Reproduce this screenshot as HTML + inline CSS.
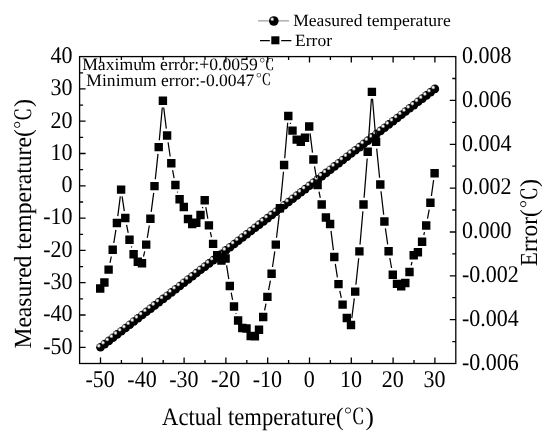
<!DOCTYPE html><html><head><meta charset="utf-8"><style>
html,body{margin:0;padding:0;background:#fff;}
svg{display:block;}
text{font-family:"Liberation Serif", "Noto Serif CJK SC", serif;fill:#000;text-rendering:geometricPrecision;}
</style></head><body>
<svg width="550" height="442" viewBox="0 0 550 442">
<defs><radialGradient id="hl" cx="0.5" cy="0.5" r="0.5"><stop offset="0" stop-color="#fff"/><stop offset="0.3" stop-color="#eee"/><stop offset="1" stop-color="#ddd" stop-opacity="0"/></radialGradient></defs>
<rect width="550" height="442" fill="#fff"/>
<circle cx="100.5" cy="347.3" r="4.3"/>
<circle cx="98.8" cy="345.8" r="2.4" fill="url(#hl)"/>
<circle cx="104.7" cy="344.1" r="4.3"/>
<circle cx="103.0" cy="342.6" r="2.4" fill="url(#hl)"/>
<circle cx="108.9" cy="340.9" r="4.3"/>
<circle cx="107.2" cy="339.4" r="2.4" fill="url(#hl)"/>
<circle cx="113.0" cy="337.7" r="4.3"/>
<circle cx="111.3" cy="336.2" r="2.4" fill="url(#hl)"/>
<circle cx="117.2" cy="334.4" r="4.3"/>
<circle cx="115.5" cy="332.9" r="2.4" fill="url(#hl)"/>
<circle cx="121.4" cy="331.2" r="4.3"/>
<circle cx="119.7" cy="329.7" r="2.4" fill="url(#hl)"/>
<circle cx="125.6" cy="328.0" r="4.3"/>
<circle cx="123.9" cy="326.5" r="2.4" fill="url(#hl)"/>
<circle cx="129.8" cy="324.7" r="4.3"/>
<circle cx="128.1" cy="323.2" r="2.4" fill="url(#hl)"/>
<circle cx="133.9" cy="321.5" r="4.3"/>
<circle cx="132.2" cy="320.0" r="2.4" fill="url(#hl)"/>
<circle cx="138.1" cy="318.3" r="4.3"/>
<circle cx="136.4" cy="316.8" r="2.4" fill="url(#hl)"/>
<circle cx="142.3" cy="315.0" r="4.3"/>
<circle cx="140.6" cy="313.5" r="2.4" fill="url(#hl)"/>
<circle cx="146.5" cy="311.8" r="4.3"/>
<circle cx="144.8" cy="310.3" r="2.4" fill="url(#hl)"/>
<circle cx="150.7" cy="308.6" r="4.3"/>
<circle cx="149.0" cy="307.1" r="2.4" fill="url(#hl)"/>
<circle cx="154.8" cy="305.4" r="4.3"/>
<circle cx="153.1" cy="303.9" r="2.4" fill="url(#hl)"/>
<circle cx="159.0" cy="302.1" r="4.3"/>
<circle cx="157.3" cy="300.6" r="2.4" fill="url(#hl)"/>
<circle cx="163.2" cy="298.9" r="4.3"/>
<circle cx="161.5" cy="297.4" r="2.4" fill="url(#hl)"/>
<circle cx="167.4" cy="295.7" r="4.3"/>
<circle cx="165.7" cy="294.2" r="2.4" fill="url(#hl)"/>
<circle cx="171.6" cy="292.4" r="4.3"/>
<circle cx="169.9" cy="290.9" r="2.4" fill="url(#hl)"/>
<circle cx="175.7" cy="289.2" r="4.3"/>
<circle cx="174.0" cy="287.7" r="2.4" fill="url(#hl)"/>
<circle cx="179.9" cy="286.0" r="4.3"/>
<circle cx="178.2" cy="284.5" r="2.4" fill="url(#hl)"/>
<circle cx="184.1" cy="282.7" r="4.3"/>
<circle cx="182.4" cy="281.2" r="2.4" fill="url(#hl)"/>
<circle cx="188.3" cy="279.5" r="4.3"/>
<circle cx="186.6" cy="278.0" r="2.4" fill="url(#hl)"/>
<circle cx="192.5" cy="276.3" r="4.3"/>
<circle cx="190.8" cy="274.8" r="2.4" fill="url(#hl)"/>
<circle cx="196.6" cy="273.0" r="4.3"/>
<circle cx="194.9" cy="271.5" r="2.4" fill="url(#hl)"/>
<circle cx="200.8" cy="269.8" r="4.3"/>
<circle cx="199.1" cy="268.3" r="2.4" fill="url(#hl)"/>
<circle cx="205.0" cy="266.6" r="4.3"/>
<circle cx="203.3" cy="265.1" r="2.4" fill="url(#hl)"/>
<circle cx="209.2" cy="263.4" r="4.3"/>
<circle cx="207.5" cy="261.9" r="2.4" fill="url(#hl)"/>
<circle cx="213.4" cy="260.1" r="4.3"/>
<circle cx="211.7" cy="258.6" r="2.4" fill="url(#hl)"/>
<circle cx="217.5" cy="256.9" r="4.3"/>
<circle cx="215.8" cy="255.4" r="2.4" fill="url(#hl)"/>
<circle cx="221.7" cy="253.7" r="4.3"/>
<circle cx="220.0" cy="252.2" r="2.4" fill="url(#hl)"/>
<circle cx="225.9" cy="250.4" r="4.3"/>
<circle cx="224.2" cy="248.9" r="2.4" fill="url(#hl)"/>
<circle cx="230.1" cy="247.2" r="4.3"/>
<circle cx="228.4" cy="245.7" r="2.4" fill="url(#hl)"/>
<circle cx="234.3" cy="244.0" r="4.3"/>
<circle cx="232.6" cy="242.5" r="2.4" fill="url(#hl)"/>
<circle cx="238.4" cy="240.7" r="4.3"/>
<circle cx="236.7" cy="239.2" r="2.4" fill="url(#hl)"/>
<circle cx="242.6" cy="237.5" r="4.3"/>
<circle cx="240.9" cy="236.0" r="2.4" fill="url(#hl)"/>
<circle cx="246.8" cy="234.3" r="4.3"/>
<circle cx="245.1" cy="232.8" r="2.4" fill="url(#hl)"/>
<circle cx="251.0" cy="231.0" r="4.3"/>
<circle cx="249.3" cy="229.5" r="2.4" fill="url(#hl)"/>
<circle cx="255.2" cy="227.8" r="4.3"/>
<circle cx="253.5" cy="226.3" r="2.4" fill="url(#hl)"/>
<circle cx="259.3" cy="224.6" r="4.3"/>
<circle cx="257.6" cy="223.1" r="2.4" fill="url(#hl)"/>
<circle cx="263.5" cy="221.4" r="4.3"/>
<circle cx="261.8" cy="219.9" r="2.4" fill="url(#hl)"/>
<circle cx="267.7" cy="218.1" r="4.3"/>
<circle cx="266.0" cy="216.6" r="2.4" fill="url(#hl)"/>
<circle cx="271.9" cy="214.9" r="4.3"/>
<circle cx="270.2" cy="213.4" r="2.4" fill="url(#hl)"/>
<circle cx="276.1" cy="211.7" r="4.3"/>
<circle cx="274.4" cy="210.2" r="2.4" fill="url(#hl)"/>
<circle cx="280.2" cy="208.4" r="4.3"/>
<circle cx="278.5" cy="206.9" r="2.4" fill="url(#hl)"/>
<circle cx="284.4" cy="205.2" r="4.3"/>
<circle cx="282.7" cy="203.7" r="2.4" fill="url(#hl)"/>
<circle cx="288.6" cy="202.0" r="4.3"/>
<circle cx="286.9" cy="200.5" r="2.4" fill="url(#hl)"/>
<circle cx="292.8" cy="198.7" r="4.3"/>
<circle cx="291.1" cy="197.2" r="2.4" fill="url(#hl)"/>
<circle cx="297.0" cy="195.5" r="4.3"/>
<circle cx="295.3" cy="194.0" r="2.4" fill="url(#hl)"/>
<circle cx="301.1" cy="192.3" r="4.3"/>
<circle cx="299.4" cy="190.8" r="2.4" fill="url(#hl)"/>
<circle cx="305.3" cy="189.1" r="4.3"/>
<circle cx="303.6" cy="187.6" r="2.4" fill="url(#hl)"/>
<circle cx="309.5" cy="185.8" r="4.3"/>
<circle cx="307.8" cy="184.3" r="2.4" fill="url(#hl)"/>
<circle cx="313.7" cy="182.6" r="4.3"/>
<circle cx="312.0" cy="181.1" r="2.4" fill="url(#hl)"/>
<circle cx="317.9" cy="179.4" r="4.3"/>
<circle cx="316.2" cy="177.9" r="2.4" fill="url(#hl)"/>
<circle cx="322.0" cy="176.1" r="4.3"/>
<circle cx="320.3" cy="174.6" r="2.4" fill="url(#hl)"/>
<circle cx="326.2" cy="172.9" r="4.3"/>
<circle cx="324.5" cy="171.4" r="2.4" fill="url(#hl)"/>
<circle cx="330.4" cy="169.7" r="4.3"/>
<circle cx="328.7" cy="168.2" r="2.4" fill="url(#hl)"/>
<circle cx="334.6" cy="166.4" r="4.3"/>
<circle cx="332.9" cy="164.9" r="2.4" fill="url(#hl)"/>
<circle cx="338.8" cy="163.2" r="4.3"/>
<circle cx="337.1" cy="161.7" r="2.4" fill="url(#hl)"/>
<circle cx="342.9" cy="160.0" r="4.3"/>
<circle cx="341.2" cy="158.5" r="2.4" fill="url(#hl)"/>
<circle cx="347.1" cy="156.7" r="4.3"/>
<circle cx="345.4" cy="155.2" r="2.4" fill="url(#hl)"/>
<circle cx="351.3" cy="153.5" r="4.3"/>
<circle cx="349.6" cy="152.0" r="2.4" fill="url(#hl)"/>
<circle cx="355.5" cy="150.3" r="4.3"/>
<circle cx="353.8" cy="148.8" r="2.4" fill="url(#hl)"/>
<circle cx="359.7" cy="147.1" r="4.3"/>
<circle cx="358.0" cy="145.6" r="2.4" fill="url(#hl)"/>
<circle cx="363.8" cy="143.8" r="4.3"/>
<circle cx="362.1" cy="142.3" r="2.4" fill="url(#hl)"/>
<circle cx="368.0" cy="140.6" r="4.3"/>
<circle cx="366.3" cy="139.1" r="2.4" fill="url(#hl)"/>
<circle cx="372.2" cy="137.4" r="4.3"/>
<circle cx="370.5" cy="135.9" r="2.4" fill="url(#hl)"/>
<circle cx="376.4" cy="134.1" r="4.3"/>
<circle cx="374.7" cy="132.6" r="2.4" fill="url(#hl)"/>
<circle cx="380.6" cy="130.9" r="4.3"/>
<circle cx="378.9" cy="129.4" r="2.4" fill="url(#hl)"/>
<circle cx="384.7" cy="127.7" r="4.3"/>
<circle cx="383.0" cy="126.2" r="2.4" fill="url(#hl)"/>
<circle cx="388.9" cy="124.4" r="4.3"/>
<circle cx="387.2" cy="122.9" r="2.4" fill="url(#hl)"/>
<circle cx="393.1" cy="121.2" r="4.3"/>
<circle cx="391.4" cy="119.7" r="2.4" fill="url(#hl)"/>
<circle cx="397.3" cy="118.0" r="4.3"/>
<circle cx="395.6" cy="116.5" r="2.4" fill="url(#hl)"/>
<circle cx="401.5" cy="114.7" r="4.3"/>
<circle cx="399.8" cy="113.2" r="2.4" fill="url(#hl)"/>
<circle cx="405.6" cy="111.5" r="4.3"/>
<circle cx="403.9" cy="110.0" r="2.4" fill="url(#hl)"/>
<circle cx="409.8" cy="108.3" r="4.3"/>
<circle cx="408.1" cy="106.8" r="2.4" fill="url(#hl)"/>
<circle cx="414.0" cy="105.1" r="4.3"/>
<circle cx="412.3" cy="103.6" r="2.4" fill="url(#hl)"/>
<circle cx="418.2" cy="101.8" r="4.3"/>
<circle cx="416.5" cy="100.3" r="2.4" fill="url(#hl)"/>
<circle cx="422.4" cy="98.6" r="4.3"/>
<circle cx="420.7" cy="97.1" r="2.4" fill="url(#hl)"/>
<circle cx="426.5" cy="95.4" r="4.3"/>
<circle cx="424.8" cy="93.9" r="2.4" fill="url(#hl)"/>
<circle cx="430.7" cy="92.1" r="4.3"/>
<circle cx="429.0" cy="90.6" r="2.4" fill="url(#hl)"/>
<circle cx="434.9" cy="88.9" r="4.3"/>
<circle cx="433.2" cy="87.4" r="2.4" fill="url(#hl)"/>
<path d="M110.0 262.9L111.3 256.5M113.8 243.0L115.9 229.8M117.8 216.2L120.3 196.4M122.1 196.4L124.3 211.2M126.6 224.8L128.2 232.9M131.4 246.4L131.7 247.5M143.5 256.6L144.7 251.3M147.3 237.8L149.3 225.5M151.2 211.9L153.7 192.9M155.3 179.3L158.0 153.9M159.3 140.3L162.3 107.5M163.7 107.5L166.3 128.7M168.1 142.3L170.2 156.5M172.6 170.1L174.1 178.2M177.4 191.7L177.6 192.5M202.4 208.3L202.8 207.0M205.8 207.1L207.8 218.6M210.4 232.1L211.5 237.2M226.6 265.3L228.8 279.2M231.2 292.7L232.6 299.8M236.0 313.2L236.1 313.8M264.6 310.3L266.0 303.6M268.6 290.1L270.4 280.6M272.5 267.0L274.8 251.4M276.5 237.8L279.2 215.1M280.6 201.5L283.5 171.8M284.7 158.2L287.7 122.8M290.2 122.7L290.6 123.9M310.1 133.3L312.5 152.7M314.5 166.3L316.5 178.2M319.0 191.7L320.3 197.8M331.0 230.8L333.4 250.2M335.3 263.8L337.4 277.3M339.8 290.8L341.3 297.9M351.8 318.2L354.3 298.4M355.9 284.8L358.7 258.2M360.0 244.6L362.9 211.3M364.1 197.7L367.2 158.5M368.2 144.9L371.4 98.7M372.5 98.7L375.5 135.0M376.7 148.6L379.6 177.7M381.0 191.3L383.7 214.7M385.4 228.3L387.7 244.4M389.8 258.0L391.6 268.0M411.2 265.3L412.0 262.0M423.8 235.0L424.5 232.2M427.5 218.7L429.2 209.6M431.4 196.0L433.6 180.1" stroke="#000" stroke-width="1.25" fill="none"/>
<path d="M96.0 284.3h8.4v8.4h-8.4zM100.2 278.3h8.4v8.4h-8.4zM104.4 265.4h8.4v8.4h-8.4zM108.5 245.6h8.4v8.4h-8.4zM112.7 218.8h8.4v8.4h-8.4zM116.9 185.4h8.4v8.4h-8.4zM121.1 213.8h8.4v8.4h-8.4zM125.3 235.5h8.4v8.4h-8.4zM129.4 250.0h8.4v8.4h-8.4zM133.6 257.6h8.4v8.4h-8.4zM137.8 259.1h8.4v8.4h-8.4zM142.0 240.4h8.4v8.4h-8.4zM146.2 214.5h8.4v8.4h-8.4zM150.3 181.9h8.4v8.4h-8.4zM154.5 142.9h8.4v8.4h-8.4zM158.7 96.5h8.4v8.4h-8.4zM162.9 131.3h8.4v8.4h-8.4zM167.1 159.1h8.4v8.4h-8.4zM171.2 180.8h8.4v8.4h-8.4zM175.4 195.0h8.4v8.4h-8.4zM179.6 202.8h8.4v8.4h-8.4zM183.8 214.8h8.4v8.4h-8.4zM188.0 219.8h8.4v8.4h-8.4zM192.1 218.6h8.4v8.4h-8.4zM196.3 210.8h8.4v8.4h-8.4zM200.5 196.1h8.4v8.4h-8.4zM204.7 221.2h8.4v8.4h-8.4zM208.9 239.7h8.4v8.4h-8.4zM213.0 251.0h8.4v8.4h-8.4zM217.2 256.3h8.4v8.4h-8.4zM221.4 254.3h8.4v8.4h-8.4zM225.6 281.8h8.4v8.4h-8.4zM229.8 302.3h8.4v8.4h-8.4zM233.9 316.3h8.4v8.4h-8.4zM238.1 323.8h8.4v8.4h-8.4zM242.3 324.3h8.4v8.4h-8.4zM246.5 331.8h8.4v8.4h-8.4zM250.7 332.0h8.4v8.4h-8.4zM254.8 325.6h8.4v8.4h-8.4zM259.0 312.8h8.4v8.4h-8.4zM263.2 292.7h8.4v8.4h-8.4zM267.4 269.6h8.4v8.4h-8.4zM271.6 240.4h8.4v8.4h-8.4zM275.7 204.1h8.4v8.4h-8.4zM279.9 160.8h8.4v8.4h-8.4zM284.1 111.8h8.4v8.4h-8.4zM288.3 126.4h8.4v8.4h-8.4zM292.5 135.4h8.4v8.4h-8.4zM296.6 137.7h8.4v8.4h-8.4zM300.8 133.5h8.4v8.4h-8.4zM305.0 122.3h8.4v8.4h-8.4zM309.2 155.3h8.4v8.4h-8.4zM313.4 180.8h8.4v8.4h-8.4zM317.5 200.3h8.4v8.4h-8.4zM321.7 213.3h8.4v8.4h-8.4zM325.9 219.8h8.4v8.4h-8.4zM330.1 252.8h8.4v8.4h-8.4zM334.3 279.9h8.4v8.4h-8.4zM338.4 300.4h8.4v8.4h-8.4zM342.6 313.8h8.4v8.4h-8.4zM346.8 320.8h8.4v8.4h-8.4zM351.0 287.4h8.4v8.4h-8.4zM355.2 247.2h8.4v8.4h-8.4zM359.3 200.3h8.4v8.4h-8.4zM363.5 147.5h8.4v8.4h-8.4zM367.7 87.7h8.4v8.4h-8.4zM371.9 137.6h8.4v8.4h-8.4zM376.1 180.3h8.4v8.4h-8.4zM380.2 217.3h8.4v8.4h-8.4zM384.4 247.0h8.4v8.4h-8.4zM388.6 270.6h8.4v8.4h-8.4zM392.8 279.7h8.4v8.4h-8.4zM397.0 282.2h8.4v8.4h-8.4zM401.1 278.8h8.4v8.4h-8.4zM405.3 267.8h8.4v8.4h-8.4zM409.5 251.1h8.4v8.4h-8.4zM413.7 248.0h8.4v8.4h-8.4zM417.9 237.5h8.4v8.4h-8.4zM422.0 221.3h8.4v8.4h-8.4zM426.2 198.6h8.4v8.4h-8.4zM430.4 169.1h8.4v8.4h-8.4z" fill="#000"/>
<rect x="79.6" y="56.6" width="376.2" height="306.9" fill="none" stroke="#000" stroke-width="1.3"/>
<path d="M100.5 363.5v-6.0M100.5 56.6v6.0M121.4 363.5v-3.5M121.4 56.6v3.5M142.3 363.5v-6.0M142.3 56.6v6.0M163.2 363.5v-3.5M163.2 56.6v3.5M184.1 363.5v-6.0M184.1 56.6v6.0M205.0 363.5v-3.5M205.0 56.6v3.5M225.9 363.5v-6.0M225.9 56.6v6.0M246.8 363.5v-3.5M246.8 56.6v3.5M267.7 363.5v-6.0M267.7 56.6v6.0M288.6 363.5v-3.5M288.6 56.6v3.5M309.5 363.5v-6.0M309.5 56.6v6.0M330.4 363.5v-3.5M330.4 56.6v3.5M351.3 363.5v-6.0M351.3 56.6v6.0M372.2 363.5v-3.5M372.2 56.6v3.5M393.1 363.5v-6.0M393.1 56.6v6.0M414.0 363.5v-3.5M414.0 56.6v3.5M434.9 363.5v-6.0M434.9 56.6v6.0M79.6 347.3h6.0M79.6 331.2h3.5M79.6 315.0h6.0M79.6 298.9h3.5M79.6 282.7h6.0M79.6 266.6h3.5M79.6 250.4h6.0M79.6 234.3h3.5M79.6 218.1h6.0M79.6 202.0h3.5M79.6 185.8h6.0M79.6 169.7h3.5M79.6 153.5h6.0M79.6 137.4h3.5M79.6 121.2h6.0M79.6 105.1h3.5M79.6 88.9h6.0M79.6 72.8h3.5M455.8 341.6h-3.5M455.8 319.7h-6.0M455.8 297.7h-3.5M455.8 275.8h-6.0M455.8 253.9h-3.5M455.8 232.0h-6.0M455.8 210.0h-3.5M455.8 188.1h-6.0M455.8 166.2h-3.5M455.8 144.3h-6.0M455.8 122.4h-3.5M455.8 100.4h-6.0M455.8 78.5h-3.5" stroke="#000" stroke-width="1.3" fill="none"/>
<text transform="translate(100.2,387.4) scale(1,1.09)" font-size="22" text-anchor="middle">-50</text>
<text transform="translate(142.0,387.4) scale(1,1.09)" font-size="22" text-anchor="middle">-40</text>
<text transform="translate(183.8,387.4) scale(1,1.09)" font-size="22" text-anchor="middle">-30</text>
<text transform="translate(225.6,387.4) scale(1,1.09)" font-size="22" text-anchor="middle">-20</text>
<text transform="translate(267.4,387.4) scale(1,1.09)" font-size="22" text-anchor="middle">-10</text>
<text transform="translate(309.2,387.4) scale(1,1.09)" font-size="22" text-anchor="middle">0</text>
<text transform="translate(351.0,387.4) scale(1,1.09)" font-size="22" text-anchor="middle">10</text>
<text transform="translate(392.8,387.4) scale(1,1.09)" font-size="22" text-anchor="middle">20</text>
<text transform="translate(434.6,387.4) scale(1,1.09)" font-size="22" text-anchor="middle">30</text>
<text transform="translate(72.5,353.6) scale(1,1.09)" font-size="22" text-anchor="end">-50</text>
<text transform="translate(72.5,321.3) scale(1,1.09)" font-size="22" text-anchor="end">-40</text>
<text transform="translate(72.5,289.0) scale(1,1.09)" font-size="22" text-anchor="end">-30</text>
<text transform="translate(72.5,256.7) scale(1,1.09)" font-size="22" text-anchor="end">-20</text>
<text transform="translate(72.5,224.4) scale(1,1.09)" font-size="22" text-anchor="end">-10</text>
<text transform="translate(72.5,192.1) scale(1,1.09)" font-size="22" text-anchor="end">0</text>
<text transform="translate(72.5,159.8) scale(1,1.09)" font-size="22" text-anchor="end">10</text>
<text transform="translate(72.5,127.5) scale(1,1.09)" font-size="22" text-anchor="end">20</text>
<text transform="translate(72.5,95.2) scale(1,1.09)" font-size="22" text-anchor="end">30</text>
<text transform="translate(72.5,62.9) scale(1,1.09)" font-size="22" text-anchor="end">40</text>
<text transform="translate(462.0,369.7) scale(1,1.09)" font-size="22" text-anchor="start">-0.006</text>
<text transform="translate(462.0,325.9) scale(1,1.09)" font-size="22" text-anchor="start">-0.004</text>
<text transform="translate(462.0,282.0) scale(1,1.09)" font-size="22" text-anchor="start">-0.002</text>
<text transform="translate(462.0,238.2) scale(1,1.09)" font-size="22" text-anchor="start">0.000</text>
<text transform="translate(462.0,194.3) scale(1,1.09)" font-size="22" text-anchor="start">0.002</text>
<text transform="translate(462.0,150.5) scale(1,1.09)" font-size="22" text-anchor="start">0.004</text>
<text transform="translate(462.0,106.6) scale(1,1.09)" font-size="22" text-anchor="start">0.006</text>
<text transform="translate(462.0,62.8) scale(1,1.09)" font-size="22" text-anchor="start">0.008</text>
<text transform="translate(0.00,424.90)" font-size="25.2"><tspan x="162.07" y="0" textLength="181.55" lengthAdjust="spacingAndGlyphs">Actual temperature(</tspan><tspan x="343.50" y="-0.70" font-size="21.5">℃</tspan><tspan x="365.50" y="0.00">)</tspan></text>
<text transform="translate(31.20,0.00) rotate(-90)" font-size="24.6"><tspan x="-348.58" y="0" textLength="219.34" lengthAdjust="spacingAndGlyphs">Measured temperature(</tspan><tspan x="-129.40" y="0.00" font-size="22.2">℃</tspan><tspan x="-107.10" y="0.00">)</tspan></text>
<text transform="translate(536.50,0.00) rotate(-90)" font-size="24.5"><tspan x="-266.18" y="0" textLength="56.92" lengthAdjust="spacingAndGlyphs">Error(</tspan><tspan x="-208.80" y="0.00" font-size="22.0">℃</tspan><tspan x="-187.10" y="0.00">)</tspan></text>
<text transform="translate(0.00,69.50)" font-size="17.4"><tspan x="82.19" y="0" textLength="175.53" lengthAdjust="spacingAndGlyphs">Maximum error:+0.0059</tspan><tspan x="258.95" y="0.10" font-size="15.6">℃</tspan></text>
<text transform="translate(0.00,85.80)" font-size="17.4"><tspan x="86.39" y="0" textLength="167.82" lengthAdjust="spacingAndGlyphs">Minimum error:-0.0047</tspan><tspan x="255.43" y="-0.60" font-size="15.8">℃</tspan></text>
<text x="293.2" y="25.9" font-size="17.2" textLength="157.5" lengthAdjust="spacingAndGlyphs">Measured temperature</text>
<text x="295.0" y="45.5" font-size="17.2" textLength="37.0" lengthAdjust="spacingAndGlyphs">Error</text>
<path d="M258 20.8H289" stroke="#b6b6b6" stroke-width="1.7"/>
<circle cx="273.8" cy="21" r="4.8"/>
<circle cx="272.2" cy="19.2" r="2.3" fill="url(#hl)"/>
<path d="M260 40.6H269.8M281.2 40.6H291.4" stroke="#000" stroke-width="1.3"/>
<rect x="271.3" y="36.3" width="8.1" height="8" fill="#000"/>
</svg></body></html>
